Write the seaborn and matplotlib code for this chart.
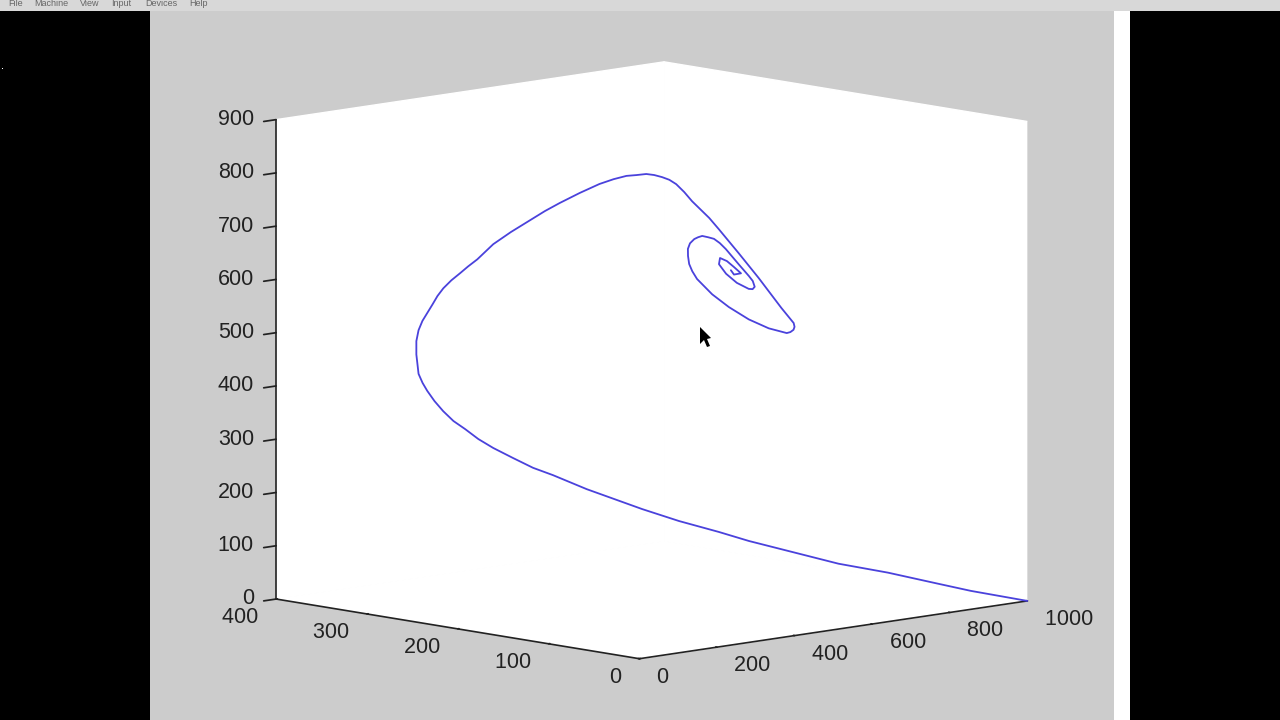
import matplotlib
matplotlib.use("Agg")
import matplotlib.pyplot as plt
from matplotlib.patches import Polygon, Rectangle
import pandas as pd
import seaborn as sns

# trajectory
right_axis = [1000, 866, 793, 676, 560, 376, 322, 266, 218, 145, 105, 77, 56, 33, 25, 19, 17, 14, 15, 15,
              17, 16, 15, 15, 16, 19, 24, 25, 26, 28, 30, 29, 34, 40, 41, 46, 49, 52, 57, 61, 67, 72, 79, 88,
              99, 110, 124, 137, 153, 171, 215, 240, 298, 366, 448, 503, 517,
              526, 525, 525, 509, 481, 446, 410, 371, 354, 339, 329, 317, 313, 310, 308, 307, 313, 321, 329, 340, 373, 404, 421, 433, 437, 434, 415,
              392, 369, 360, 366, 384, 407, 396, 388]
left_axis = [0, 5, 10, 15, 20, 40, 50, 70, 90, 120, 140, 150, 163, 175, 188, 200, 212, 222, 232, 240,
             246, 250, 252, 252, 250, 247, 238, 233, 227, 219, 210, 201, 193, 178, 159, 140, 125, 110, 90, 70, 57, 45, 37, 30,
             26, 22, 20, 18, 16, 15, 15, 15, 18, 25, 35, 45, 50,
             55, 58, 62, 75, 85, 92, 95, 95, 93, 90, 87, 82, 78, 72, 67, 62, 58, 55, 52, 50, 50, 52, 55, 58, 62, 65, 70,
             72, 70, 65, 60, 60, 62, 65, 65]
height = [0, 32, 52, 84, 112, 169, 189, 210, 232, 269, 294, 308, 325, 343, 357, 373, 385, 401, 417, 434,
          447, 463, 499, 524, 545, 563, 596, 613, 629, 646, 662, 677, 692, 724, 752, 779, 800, 819, 843, 865, 877, 886, 889, 892,
          890, 886, 880, 871, 855, 836, 800, 776, 724, 668, 600, 563, 553,
          545, 540, 537, 544, 561, 586, 613, 646, 663, 679, 696, 712, 724, 734, 739, 743, 741, 738, 730, 718, 686, 660, 648, 635, 629, 629, 641,
          660, 681, 695, 690, 677, 662, 660, 669]

right_ticks = [0, 200, 400, 600, 800, 1000]
left_ticks = [0, 100, 200, 300, 400]
height_ticks = [0, 100, 200, 300, 400, 500, 600, 700, 800, 900]
menu_items = ["File", "Machine", "View", "Input", "Devices", "Help"]
menu_x = [8, 34, 80, 111, 145, 189]

LINE = "#4a42dc"
PANEL = "#cccccc"

sns.set_theme(style="white")
sns.set_palette([LINE])
plt.rcParams["font.family"] = ["Liberation Sans", "DejaVu Sans"]

df = pd.DataFrame({"x": right_axis, "y": left_axis, "z": height})

fig = plt.figure(figsize=(12.8, 7.2), dpi=100, facecolor=PANEL)


def box(x0, y0, x1, y1, color):
    # rectangle given in screen pixels, y going down
    fig.add_artist(Rectangle((x0 / 1280, 1 - y1 / 720), (x1 - x0) / 1280, (y1 - y0) / 720,
                             transform=fig.transFigure, facecolor=color, edgecolor="none"))


box(0, 0, 1280, 11, "#d8d8d8")
box(0, 11, 150, 720, "black")
box(1114, 11, 1130, 720, "white")
box(1130, 11, 1280, 720, "black")
box(2, 68, 3, 69, "white")
for label, mx in zip(menu_items, menu_x):
    fig.text(mx / 1280, 1 - 3 / 720, label, fontsize=6.5, color="#666666", va="center")

ax = fig.add_axes([282 / 1280, -10 / 720, 720 / 1280, 1], projection="3d", proj_type="ortho")
ax.set_facecolor("none")
ax.view_init(elev=9, azim=-133.6)
ax.set_box_aspect((538.6, 529.6, 488), zoom=1.206)

ax.plot(df["x"], df["y"], df["z"], color=LINE, lw=1.3, solid_joinstyle="round", clip_on=False)

ax.set_xlim(0, 1000, view_margin=0)
ax.set_ylim(0, 400, view_margin=0)
ax.set_zlim(0, 900, view_margin=0)
ax.set_xticks(right_ticks)
ax.set_yticks(left_ticks)
ax.set_zticks(height_ticks)
ax.grid(False)
ax.zaxis.set_ticks_position("upper")
for axis in (ax.xaxis, ax.yaxis, ax.zaxis):
    axis.set_pane_color("white")
    axis.pane.set_edgecolor("white")
    axis.line.set_color("#222222")
    axis.line.set_linewidth(1.2)
    axis.set_tick_params(labelsize=15.5, labelcolor="#222222", color="#222222", pad=-4)
    axis._axinfo["tick"]["inward_factor"] = 0.0
    axis._axinfo["tick"]["outward_factor"] = 0.04
ax.zaxis._axinfo["tick"]["outward_factor"] = -0.4
ax.zaxis.set_tick_params(pad=0)

# spaces push the labels sideways, the 3d axis has no other offset for them
ax.set_xticklabels(["  " + str(v) for v in right_ticks], ha="left")
ax.set_yticklabels([str(v) + "  " for v in left_ticks], ha="right")
for t in ax.get_zticklabels():
    t.set_ha("right")
    t.set_va("center")

# mouse pointer in the screenshot
pointer = [(700, 327), (700, 344), (704, 340), (707, 347), (710, 346), (707, 339), (711, 338)]
fig.add_artist(Polygon([(px / 1280, 1 - py / 720) for px, py in pointer], closed=True,
                       transform=fig.transFigure, facecolor="black", edgecolor="none", zorder=10))

fig.savefig("out.png", dpi=100, facecolor=fig.get_facecolor())
